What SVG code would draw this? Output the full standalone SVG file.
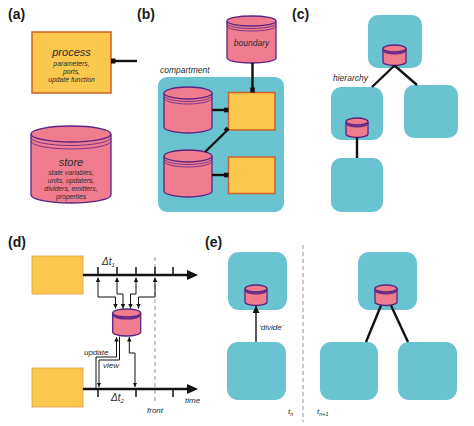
<svg xmlns="http://www.w3.org/2000/svg" width="474" height="426" viewBox="0 0 474 426">
<style>
.lbl{font-family:"Liberation Sans",Arial,sans-serif;font-weight:bold;font-size:14px;fill:#1a1a1a}
.it{font-family:"Liberation Sans",Arial,sans-serif;font-style:italic;fill:#2a2a2a}
.proc{fill:#FBC84E;stroke:#D0602A;stroke-width:1.5}
.proc2{fill:#FBC84E;stroke:#E39A45;stroke-width:0.8}
.node{fill:#69C3D0}
.cyl{fill:#F07C90;stroke:#5A2483;stroke-width:1.3}
.band{fill:none;stroke:#5A2483;stroke-width:0.8}
.sband{fill:none;stroke:#6A2B86;stroke-width:2.2}
.conn{stroke:#111;stroke-width:2.4;fill:none}
.thin{stroke:#111;stroke-width:1;fill:none}
.port{fill:#111}
.axis{stroke:#111;stroke-width:2.6}
.tick{stroke:#111;stroke-width:1.5}
</style>
<defs>
<marker id="ah" viewBox="0 0 6 6" refX="6" refY="3" markerWidth="4.5" markerHeight="4.5" orient="auto-start-reverse" markerUnits="userSpaceOnUse"><path d="M0,0 L6,3 L0,6 z" fill="#111"/></marker>
<marker id="ah2" viewBox="0 0 6 6" refX="6" refY="3" markerWidth="7" markerHeight="7" orient="auto" markerUnits="userSpaceOnUse"><path d="M0,0 L6,3 L0,6 z" fill="#111"/></marker>
</defs>

<!-- panel labels -->
<text class="lbl" x="8" y="19">(a)</text>
<text class="lbl" x="137" y="19">(b)</text>
<text class="lbl" x="292" y="19">(c)</text>
<text class="lbl" x="8" y="247">(d)</text>
<text class="lbl" x="205" y="247">(e)</text>

<!-- (a) -->
<g id="a-process">
<rect class="proc" x="32" y="32" width="79" height="61"/>
<text class="it" x="71.5" y="56" font-size="11" text-anchor="middle">process</text>
<text class="it" x="71.5" y="66" font-size="6.8" text-anchor="middle">parameters,</text>
<text class="it" x="71.5" y="74" font-size="6.8" text-anchor="middle">ports,</text>
<text class="it" x="71.5" y="82" font-size="6.8" text-anchor="middle">update function</text>
</g>
<g id="a-store">
<path class="cyl" d="M31,134 V195 A40,8 0 0 0 111,195 V134"/>
<ellipse class="cyl" cx="71" cy="134" rx="40" ry="8"/>
<path class="band" d="M31,137.5 A40,8 0 0 0 111,137.5 M31,141 A40,8 0 0 0 111,141"/>
<text class="it" x="71" y="166" font-size="11" text-anchor="middle">store</text>
<text class="it" x="71" y="175" font-size="6.8" text-anchor="middle">state variables,</text>
<text class="it" x="71" y="183" font-size="6.8" text-anchor="middle">units, updaters,</text>
<text class="it" x="71" y="191" font-size="6.8" text-anchor="middle">dividers, emitters,</text>
<text class="it" x="71" y="199" font-size="6.8" text-anchor="middle">properties</text>
</g>

<!-- (b) -->
<g id="b-compartment">
<rect class="node" x="158" y="77" width="126" height="135" rx="9"/>
<text class="it" x="160" y="73" font-size="8.5">compartment</text>
</g>
<g id="b-boundary">
<path class="cyl" d="M227,21 V58 A24.5,5 0 0 0 276,58 V21"/>
<ellipse class="cyl" cx="251.5" cy="21" rx="24.5" ry="5"/>
<path class="band" d="M227,23.5 A24.5,5 0 0 0 276,23.5 M227,26 A24.5,5 0 0 0 276,26"/>
<text class="it" x="251.5" y="46" font-size="8.5" text-anchor="middle">boundary</text>
</g>
<g id="b-store1">
<path class="cyl" d="M164,93 V127 A24,6 0 0 0 212,127 V93"/>
<ellipse class="cyl" cx="188" cy="93" rx="24" ry="6"/>
<path class="band" d="M164,95.5 A24,6 0 0 0 212,95.5 M164,98 A24,6 0 0 0 212,98"/>
</g>
<g id="b-store2">
<path class="cyl" d="M164,156 V191 A24,6 0 0 0 212,191 V156"/>
<ellipse class="cyl" cx="188" cy="156" rx="24" ry="6"/>
<path class="band" d="M164,158.5 A24,6 0 0 0 212,158.5 M164,161 A24,6 0 0 0 212,161"/>
</g>
<g id="b-process1"><rect class="proc" x="228.5" y="92.5" width="46.5" height="37.5"/></g>
<g id="b-process2"><rect class="proc" x="228.5" y="157" width="46.5" height="36.5"/></g>

<!-- (c) -->
<g id="c-top">
<rect class="node" x="368" y="15" width="54" height="53" rx="10"/>
<path class="cyl" d="M383,48.5 V62 A11.5,3.5 0 0 0 406,62 V48.5"/>
<ellipse class="cyl" cx="394.5" cy="48.5" rx="11.5" ry="3.5"/>
<path class="sband" d="M383.5,50 A11,3.5 0 0 0 405.5,50"/>
</g>
<g id="c-left">
<rect class="node" x="331" y="87" width="52" height="53" rx="10"/>
<path class="cyl" d="M346,121.5 V134 A11,3.5 0 0 0 368,134 V121.5"/>
<ellipse class="cyl" cx="357" cy="121.5" rx="11" ry="3.5"/>
<path class="sband" d="M346.5,123 A10.5,3.5 0 0 0 367.5,123"/>
</g>
<g id="c-right"><rect class="node" x="404" y="85" width="54" height="53" rx="10"/></g>
<g id="c-bottom"><rect class="node" x="331" y="158" width="52" height="54" rx="10"/></g>
<text class="it" x="333" y="81" font-size="8.5">hierarchy</text>

<!-- (d) -->
<g id="d-process1"><rect class="proc2" x="32" y="256" width="51" height="38"/></g>
<g id="d-process2"><rect class="proc2" x="32" y="368" width="51" height="39"/></g>
<g id="d-timelines">
<line x1="155" y1="257" x2="155" y2="404" stroke="#a8a8a8" stroke-width="1.2" stroke-dasharray="4,3"/>
<line class="axis" x1="83" y1="275" x2="190" y2="275"/>
<polygon points="187,270 198,275 187,280" fill="#111"/>
<line class="tick" x1="98" y1="267" x2="98" y2="275"/>
<line class="tick" x1="117" y1="267" x2="117" y2="275"/>
<line class="tick" x1="136" y1="267" x2="136" y2="275"/>
<line class="tick" x1="155" y1="267" x2="155" y2="275"/>
<line class="tick" x1="173" y1="267" x2="173" y2="275"/>
<line class="axis" x1="83" y1="389" x2="190" y2="389"/>
<polygon points="187,384 198,389 187,394" fill="#111"/>
<line class="tick" x1="98" y1="389" x2="98" y2="397"/>
<line class="tick" x1="136" y1="389" x2="136" y2="397"/>
<line class="tick" x1="173" y1="389" x2="173" y2="397"/>
<text class="it" x="102" y="265" font-size="10">Δt<tspan font-size="6" dy="2">1</tspan></text>
<text class="it" x="111" y="401" font-size="10">Δt<tspan font-size="6" dy="2">2</tspan></text>
<text class="it" x="147" y="413" font-size="8">front</text>
<text class="it" x="185" y="403" font-size="8">time</text>
<text class="it" x="84" y="355" font-size="8">update</text>
<text class="it" x="103" y="368" font-size="8">view</text>
</g>
<g id="d-store">
<path class="cyl" d="M112.7,313 V332 A14,4 0 0 0 140.7,332 V313"/>
<ellipse class="cyl" cx="126.7" cy="313" rx="14" ry="4"/>
<path class="sband" d="M113.2,314.5 A13.5,4 0 0 0 140.2,314.5"/>
</g>

<!-- (e) -->
<g id="e-left-top">
<rect class="node" x="228" y="252" width="59" height="58" rx="11"/>
<path class="cyl" d="M245,288.5 V302 A11,3.5 0 0 0 267,302 V288.5"/>
<ellipse class="cyl" cx="256" cy="288.5" rx="11" ry="3.5"/>
<path class="sband" d="M245.5,290 A10.5,3.5 0 0 0 266.5,290"/>
</g>
<g id="e-left-bottom"><rect class="node" x="227" y="342" width="59" height="58" rx="11"/></g>
<g id="e-right-top">
<rect class="node" x="358" y="252" width="59" height="58" rx="11"/>
<path class="cyl" d="M375,288.5 V302 A11,3.5 0 0 0 397,302 V288.5"/>
<ellipse class="cyl" cx="386" cy="288.5" rx="11" ry="3.5"/>
<path class="sband" d="M375.5,290 A10.5,3.5 0 0 0 396.5,290"/>
</g>
<g id="e-right-bl"><rect class="node" x="320" y="342" width="58" height="58" rx="11"/></g>
<g id="e-right-br"><rect class="node" x="398" y="342" width="59" height="58" rx="11"/></g>
<line x1="303" y1="245" x2="303" y2="422" stroke="#a8a8a8" stroke-width="1.2" stroke-dasharray="4,3"/>
<text class="it" x="259" y="330" font-size="8">‘divide`</text>
<text class="it" x="288" y="414" font-size="8">t<tspan font-size="5.5" dy="2">n</tspan></text>
<text class="it" x="317" y="414" font-size="8">t<tspan font-size="5.5" dy="2">n+1</tspan></text>

<!-- connectors -->
<g id="connectors">
<line class="conn" x1="115" y1="61" x2="137" y2="61"/>
<rect class="port" x="111" y="58.5" width="4.5" height="5"/>
<line class="conn" x1="252.5" y1="63" x2="252.5" y2="89"/>
<rect class="port" x="250.3" y="87.5" width="4.5" height="5"/>
<line class="conn" x1="212" y1="110" x2="225" y2="110"/>
<rect class="port" x="224" y="107.7" width="4.5" height="4.6"/>
<line class="conn" x1="205" y1="152" x2="226" y2="131.5"/>
<rect class="port" x="224.5" y="127.5" width="4.2" height="4.2" transform="rotate(-45 226.6 129.6)"/>
<line class="conn" x1="212" y1="175" x2="225" y2="175"/>
<rect class="port" x="224" y="172.7" width="4.5" height="4.6"/>
<line class="conn" x1="394.5" y1="65.5" x2="372" y2="87"/>
<line class="conn" x1="394.5" y1="65.5" x2="417" y2="85"/>
<line class="conn" x1="357" y1="137.5" x2="357" y2="158"/>
<line class="conn" x1="381" y1="305.5" x2="366" y2="342"/>
<line class="conn" x1="391" y1="305.5" x2="408" y2="342"/>
<line stroke="#111" stroke-width="1.4" x1="256" y1="342" x2="256" y2="306" marker-end="url(#ah2)"/>
<path class="thin" d="M98,277.5 V297 H115.5 V308.5" marker-start="url(#ah)" marker-end="url(#ah)"/>
<path class="thin" d="M117,277.5 V294 H123 V308.5" marker-start="url(#ah)" marker-end="url(#ah)"/>
<path class="thin" d="M136,277.5 V294 H130.5 V308.5" marker-start="url(#ah)" marker-end="url(#ah)"/>
<path class="thin" d="M155,277.5 V297 H138.5 V308.5" marker-start="url(#ah)" marker-end="url(#ah)"/>
<path class="thin" d="M116.5,337 V357 H96 V388" marker-start="url(#ah)"/>
<path class="thin" d="M119.5,336.5 V360 H99 V387" marker-end="url(#ah)"/>
<path class="thin" d="M129.3,337 V353 H135 V387" marker-start="url(#ah)" marker-end="url(#ah)"/>
</g>
</svg>
